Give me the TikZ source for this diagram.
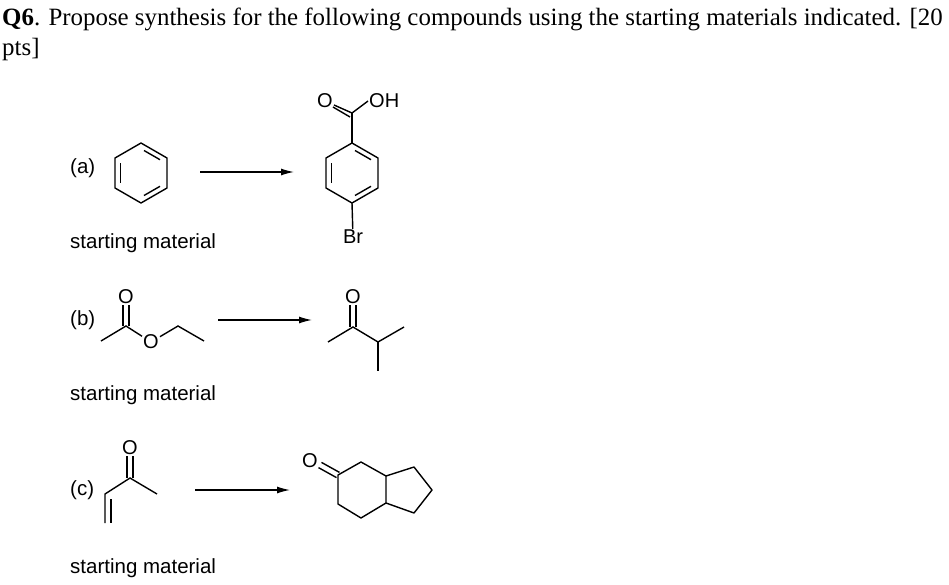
\documentclass[tikz,border=0pt]{standalone}
\usepackage{fontspec}
\setmainfont{Liberation Serif}
\newfontfamily\lsans{Liberation Sans}
\usetikzlibrary{arrows.meta,calc}
\begin{document}
\begin{tikzpicture}[x=1pt,y=-1pt,
  bond/.style={line width=1.4pt},
  atom/.style={font=\lsans\fontsize{20}{20}\selectfont,inner sep=1pt},
  lab/.style={font=\lsans\fontsize{20.5}{20.5}\selectfont,anchor=west,inner sep=0pt},
  rxn/.style={line width=1.3pt,-{Latex[length=13pt,width=7pt]}}]
\useasboundingbox (0,0) rectangle (949,584);
\node[anchor=west,inner sep=0pt,font=\fontsize{24.9}{25}\selectfont] (t1) at (2,19) {\textbf{Q6}. Propose synthesis for the following compounds using the starting materials indicated. [20};
\node[anchor=west,inner sep=0pt,font=\fontsize{24.9}{25}\selectfont] (t2) at (2,50) {pts]};
% labels
\node[lab] (la) at (70,168) {(a)};
\node[lab] (sa) at (70,243) {starting material};
\node[lab] (lb) at (70,320) {(b)};
\node[lab] (sb) at (70,395) {starting material};
\node[lab] (lc) at (70,490) {(c)};
\node[lab] (sc) at (70,568) {starting material};
% (a) benzene rings
\foreach \cx/\cy/\p in {141/173/s,352/173/p}{
\begin{scope}[shift={(\cx,\cy)}]
\coordinate (\p0) at (0,-30); \coordinate (\p1) at (26,-15); \coordinate (\p2) at (26,15);
\coordinate (\p3) at (0,30); \coordinate (\p4) at (-26,15); \coordinate (\p5) at (-26,-15);
\draw[bond,line join=round] (\p0)--(\p1)--(\p2)--(\p3)--(\p4)--(\p5)--cycle;
\draw[bond] (-20.5,-10)--(-20.5,10);
\draw[bond] (3,-22.5)--(19,-13.3);
\draw[bond] (3,22.5)--(19,13.3);
\end{scope}}
\draw[rxn] (200,172)--(294,172);
% carboxyl
\coordinate (cc) at (352,113);
\node[atom] (o1) at (325,101) {O};
\node[atom,anchor=west] (oh) at (368,101) {OH};
\draw[bond] (p0)--(cc);
\draw[bond] (cc)--(o1);
\draw[bond] ($(cc)+(-2,4)$)--($(o1.east)+(-1,6)$);
\draw[bond] (cc)--(oh.west);
\node[atom] (br) at (353,237) {Br};
\draw[bond] (p3)--(br);
% (b) ester
\coordinate (m1) at (101,341); \coordinate (c1) at (126,326);
\node[atom] (o2) at (126,297) {O};
\node[atom] (o3) at (151,342) {O};
\coordinate (e1) at (178,326); \coordinate (e2) at (204,341);
\draw[bond] (m1)--(c1)--(o3)--(e1)--(e2);
\draw[bond] ($(c1)+(-3,0)$)--($(o2.south)+(-3,0)$);
\draw[bond] ($(c1)+(3,0)$)--($(o2.south)+(3,0)$);
\draw[rxn] (218,320)--(312,320);
% (b) ketone
\coordinate (m2) at (328,342); \coordinate (c2) at (353,327);
\node[atom] (o4) at (353,297) {O};
\coordinate (h1) at (378,342); \coordinate (h2) at (404,327); \coordinate (h3) at (378,371);
\draw[bond] (m2)--(c2)--(h1)--(h2); \draw[bond] (h1)--(h3);
\draw[bond] ($(c2)+(-3,0)$)--($(o4.south)+(-3,0)$);
\draw[bond] ($(c2)+(3,0)$)--($(o4.south)+(3,0)$);
% (c) MVK
\coordinate (c3) at (130,478);
\node[atom] (o5) at (130,448) {O};
\coordinate (m3) at (157,494); \coordinate (v1) at (105,494); \coordinate (v2) at (105,523);
\draw[bond] (m3)--(c3)--(v1)--(v2);
\draw[bond] ($(c3)+(-3,0)$)--($(o5.south)+(-3,0)$);
\draw[bond] ($(c3)+(3,0)$)--($(o5.south)+(3,0)$);
\draw[bond] (111,499)--(111,523);
\draw[rxn] (195,490)--(290,490);
% (c) bicyclic
\coordinate (r1) at (338,475); \coordinate (r2) at (361,462); \coordinate (r3) at (386,476);
\coordinate (r4) at (386,503); \coordinate (r5) at (361,518); \coordinate (r6) at (338,504);
\coordinate (f1) at (414,467); \coordinate (f2) at (432,490); \coordinate (f3) at (414,513);
\node[atom] (o6) at (310,461) {O};
\draw[bond,line join=round] (r1)--(r2)--(r3)--(r4)--(r5)--(r6)--cycle;
\draw[bond,line join=round] (r3)--(f1)--(f2)--(f3)--(r4);
\draw[bond] ($(r1)+(1.5,-2.6)$)--($(320,465)+(1.5,-2.6)$);
\draw[bond] ($(r1)+(-1.5,2.6)$)--($(320,465)+(-1.5,2.6)$);
\end{tikzpicture}
\end{document}
